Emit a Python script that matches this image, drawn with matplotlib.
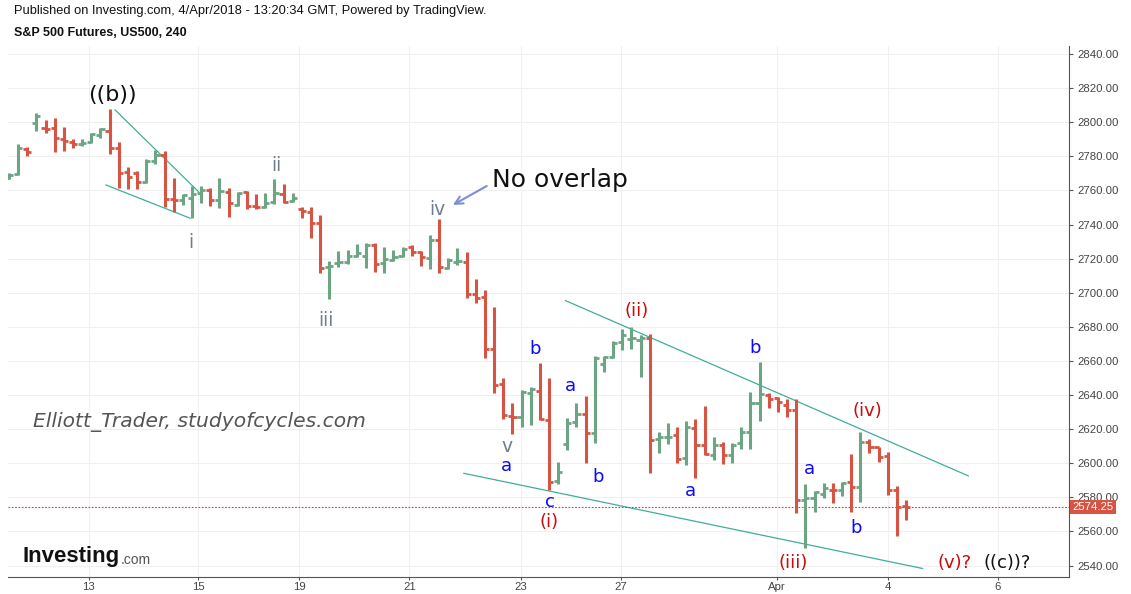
import matplotlib
matplotlib.use("Agg")
import matplotlib.pyplot as plt
import numpy as np

# 4h OHLC bars, S&P 500 futures
opens = [2767.5, 2769.5, 2784.5, 2799.4, 2796.8, 2796.5, 2790.0, 2788.6, 2787.1, 2788.3,
         2792.6, 2794.9, 2785.1, 2770.7, 2770.1, 2764.8, 2777.3, 2780.8, 2755.0, 2754.4,
         2755.8, 2758.4, 2760.3, 2754.4, 2759.3, 2751.5, 2759.0, 2751.1, 2750.2, 2753.4,
         2758.0, 2754.0, 2749.1, 2747.6, 2741.1, 2715.3, 2717.3, 2718.2, 2721.8, 2721.6,
         2728.0, 2717.3, 2719.2, 2721.6, 2726.6, 2724.0, 2720.2, 2730.7, 2714.3, 2718.2,
         2718.2, 2699.3, 2697.7, 2666.8, 2646.5, 2627.9, 2627.3, 2641.1, 2642.6, 2625.4,
         2589.8, 2611.3, 2624.1, 2629.0, 2617.6, 2658.2, 2662.2, 2671.3, 2672.7, 2672.3,
         2673.3, 2614.0, 2615.2, 2616.6, 2602.9, 2620.5, 2610.7, 2604.9, 2610.7, 2604.9,
         2612.1, 2618.5, 2635.2, 2640.1, 2638.1, 2634.2, 2631.0, 2578.5, 2579.8, 2582.0,
         2584.6, 2584.3, 2589.2, 2585.9, 2612.7, 2609.4, 2604.3, 2584.6, 2575.0]
highs = [2770.0, 2787.1, 2785.7, 2805.3, 2801.3, 2802.3, 2797.1, 2790.2, 2790.0, 2793.5,
         2796.5, 2807.8, 2788.3, 2774.0, 2771.4, 2778.3, 2783.8, 2783.2, 2767.5, 2758.1,
         2762.8, 2762.8, 2761.6, 2767.2, 2761.6, 2759.3, 2759.7, 2758.0, 2758.4, 2766.6,
         2763.8, 2758.4, 2750.2, 2750.2, 2745.6, 2718.8, 2724.5, 2725.1, 2728.6, 2729.4,
         2729.0, 2726.6, 2725.1, 2726.6, 2728.0, 2724.5, 2733.9, 2743.3, 2720.2, 2726.0,
         2724.0, 2707.9, 2701.6, 2691.8, 2649.9, 2635.6, 2643.0, 2644.6, 2659.0, 2649.9,
         2601.0, 2626.4, 2635.6, 2639.5, 2662.9, 2662.9, 2671.7, 2678.6, 2679.8, 2675.2,
         2675.8, 2618.5, 2623.5, 2621.1, 2624.6, 2626.0, 2633.6, 2615.2, 2612.7, 2611.7,
         2621.1, 2642.0, 2659.2, 2641.1, 2638.7, 2637.5, 2637.5, 2587.9, 2583.7, 2588.3,
         2588.7, 2589.2, 2605.4, 2618.5, 2614.0, 2609.7, 2606.8, 2586.6, 2578.5]
lows = [2766.5, 2769.1, 2780.4, 2795.1, 2793.5, 2782.8, 2783.3, 2785.1, 2786.1, 2787.7,
        2790.6, 2781.4, 2761.6, 2760.9, 2760.9, 2764.2, 2775.4, 2750.5, 2747.2, 2751.5,
        2743.7, 2752.8, 2751.1, 2749.9, 2744.6, 2750.9, 2749.0, 2749.0, 2749.6, 2751.9,
        2752.5, 2753.1, 2744.0, 2732.0, 2711.8, 2696.2, 2715.0, 2716.7, 2720.8, 2714.7,
        2712.0, 2711.4, 2718.7, 2720.8, 2721.8, 2715.9, 2714.0, 2711.4, 2713.7, 2716.5,
        2696.8, 2693.8, 2661.6, 2641.1, 2626.0, 2617.0, 2621.1, 2622.5, 2625.4, 2584.3,
        2587.9, 2607.8, 2621.1, 2600.4, 2611.7, 2653.7, 2661.6, 2666.4, 2667.0, 2650.8,
        2594.5, 2606.2, 2611.1, 2600.4, 2598.7, 2591.2, 2604.9, 2602.0, 2599.6, 2600.0,
        2608.3, 2608.3, 2625.0, 2632.6, 2630.3, 2627.0, 2571.0, 2550.2, 2571.7, 2579.8,
        2576.9, 2580.8, 2571.7, 2577.5, 2606.2, 2601.0, 2581.4, 2557.3, 2566.7]
closes = [2769.0, 2784.8, 2782.5, 2803.9, 2796.0, 2790.6, 2789.2, 2787.1, 2788.0, 2793.0,
          2795.9, 2784.8, 2770.4, 2768.1, 2764.8, 2777.5, 2780.8, 2755.0, 2754.4, 2757.4,
          2757.8, 2760.3, 2754.4, 2759.7, 2752.5, 2758.4, 2750.9, 2750.5, 2752.8, 2758.4,
          2753.1, 2755.4, 2748.2, 2741.1, 2714.7, 2715.9, 2718.2, 2721.6, 2723.2, 2728.0,
          2716.7, 2719.6, 2720.8, 2725.5, 2724.0, 2720.8, 2731.0, 2715.3, 2719.0, 2718.8,
          2699.0, 2696.8, 2666.8, 2645.9, 2628.3, 2627.0, 2642.0, 2643.4, 2626.0, 2589.2,
          2595.0, 2623.5, 2629.0, 2617.6, 2661.6, 2662.2, 2670.7, 2675.2, 2673.3, 2673.6,
          2613.6, 2615.2, 2615.6, 2602.3, 2621.1, 2610.7, 2605.2, 2610.7, 2604.9, 2611.0,
          2618.5, 2635.2, 2640.6, 2637.7, 2636.1, 2631.3, 2578.5, 2579.8, 2583.0, 2585.3,
          2584.3, 2588.7, 2585.9, 2612.7, 2609.4, 2603.5, 2584.6, 2574.6, 2574.25]

day_labels = ["13", "15", "19", "21", "23", "27", "Apr", "4", "6"]
day_bars = [8.7, 20.7, 31.7, 43.75, 55.9, 66.85, 83.9, 96.0, 108.0]
last_price = 2574.25

# trend lines: (bar, price) end points
trend_lines = [((11.6, 2807.2), (20.7, 2759.3)),
               ((10.6, 2763.2), (19.8, 2743.7)),
               ((60.8, 2695.4), (104.8, 2592.6)),
               ((49.7, 2594.1), (99.8, 2538.3))]

# wave labels: text, bar, price, colour key, size
wave_labels = [("((b))", 11.3, 2816.0, "black", 16),
               ("i", 19.9, 2729.5, "gray", 13.5),
               ("ii", 29.2, 2774.6, "gray", 13.5),
               ("iii", 34.6, 2683.5, "gray", 13.5),
               ("iv", 46.8, 2748.6, "gray", 13.5),
               ("v", 54.4, 2609.6, "gray", 13.5),
               ("a", 54.4, 2598.5, "blue", 13),
               ("b", 57.5, 2667.1, "blue", 13),
               ("c", 59.1, 2577.4, "blue", 13),
               ("(i)", 59.0, 2565.6, "red", 13),
               ("a", 61.3, 2645.4, "blue", 13),
               ("b", 64.4, 2592.0, "blue", 13),
               ("(ii)", 68.6, 2689.3, "red", 13),
               ("a", 74.4, 2583.8, "blue", 13),
               ("b", 81.5, 2667.7, "blue", 13),
               ("(iii)", 85.7, 2541.6, "red", 13),
               ("a", 87.5, 2596.7, "blue", 13),
               ("b", 92.6, 2562.1, "blue", 13),
               ("(iv)", 93.8, 2630.7, "red", 13),
               ("(v)?", 103.3, 2541.6, "red", 13),
               ("((c))?", 109.1, 2541.6, "black", 13)]

UP = "#6ba583"
DOWN = "#d75442"
TEAL = "#3fae9a"
COLORS = {"black": "#111111", "gray": "#6f7d8d", "blue": "#0a0aff", "red": "#cc0a0a"}

fig = plt.figure(figsize=(11.31, 5.94), dpi=100)
ax = fig.add_axes([8 / 1131, 17 / 594, 1061 / 1131, 531 / 594])

o, h, l, c = (np.array(a) for a in (opens, highs, lows, closes))
x = np.arange(len(o))
col = np.where(c >= o, UP, DOWN)
ax.vlines(x, l, h, colors=col, lw=2.2, zorder=3)
ax.hlines(o, x - 0.45, x, colors=col, lw=2.0, zorder=3)
ax.hlines(c, x, x + 0.45, colors=col, lw=2.0, zorder=3)

for (x0, y0), (x1, y1) in trend_lines:
    ax.plot([x0, x1], [y0, y1], color=TEAL, lw=0.9, zorder=2)

ax.axhline(last_price, color="#e0392b", lw=0.8, ls=(0, (1.5, 1.5)), zorder=2)

for txt, bx, py, key, fs in wave_labels:
    ax.text(bx, py, txt, color=COLORS[key], fontsize=fs, ha="center", va="center", zorder=4)

ax.text(60.2, 2766.1, "No overlap", fontsize=18, color="#111111", ha="center", va="center")
ax.annotate("", xy=(48.5, 2751.5), xytext=(52.2, 2762.6),
            arrowprops=dict(arrowstyle="->", color="#7b8ed6", lw=1.5,
                            shrinkA=0, shrinkB=0, mutation_scale=14))

ax.set_xlim(-0.1, 115.8)
ax.set_ylim(2533.3, 2844.7)
ax.yaxis.tick_right()
ax.set_yticks(np.arange(2540, 2841, 20))
ax.set_yticklabels([f"{v:.2f}" for v in range(2540, 2841, 20)])
ax.set_xticks(day_bars)
ax.set_xticklabels(day_labels)
ax.tick_params(axis="both", colors="#555555", labelcolor="#444444", labelsize=8.2)
ax.tick_params(axis="x", length=2, pad=1.5)
ax.tick_params(axis="y", length=3, pad=3)
for lab in ax.get_xticklabels() + ax.get_yticklabels():
    lab.set_fontfamily("Liberation Sans")
ax.grid(True, color="#f0f0f0", lw=0.8, zorder=0)
ax.set_axisbelow(True)
for side in ("top", "left"):
    ax.spines[side].set_visible(False)
for side in ("right", "bottom"):
    ax.spines[side].set_color("#555555")

# last price tag on the price axis
ax.text(1.003, last_price, f"{last_price:.2f}", transform=ax.get_yaxis_transform(),
        ha="left", va="center", color="white", fontsize=8.2, family="Liberation Sans",
        bbox=dict(boxstyle="square,pad=0.2", fc="#d75442", ec="none"), clip_on=False,
        zorder=5)

fig.text(14 / 1131, 1 - 11 / 594, "Published on Investing.com, 4/Apr/2018 - 13:20:34 GMT, Powered by TradingView.",
         fontsize=9.3, family="Liberation Sans", va="center", color="#111111")
fig.text(14 / 1131, 1 - 33 / 594, "S&P 500 Futures, US500, 240", fontsize=9,
         family="Liberation Sans", weight="bold", va="center", color="#111111")
fig.text(33 / 1131, 1 - 422 / 594, "Elliott_Trader, studyofcycles.com", fontsize=14.6,
         style="italic", color="#555555", va="center")
logo = fig.text(22 / 1131, 1 - 562 / 594, "Investing", fontsize=16, weight="bold",
                family="Liberation Sans", color="#111111", va="baseline")
ax.annotate(".com", xy=(1, 0), xycoords=logo, xytext=(1, 0), textcoords="offset points",
            fontsize=10, family="Liberation Sans", color="#555555", va="bottom", ha="left",
            annotation_clip=False)

fig.savefig("out.png", dpi=100)
